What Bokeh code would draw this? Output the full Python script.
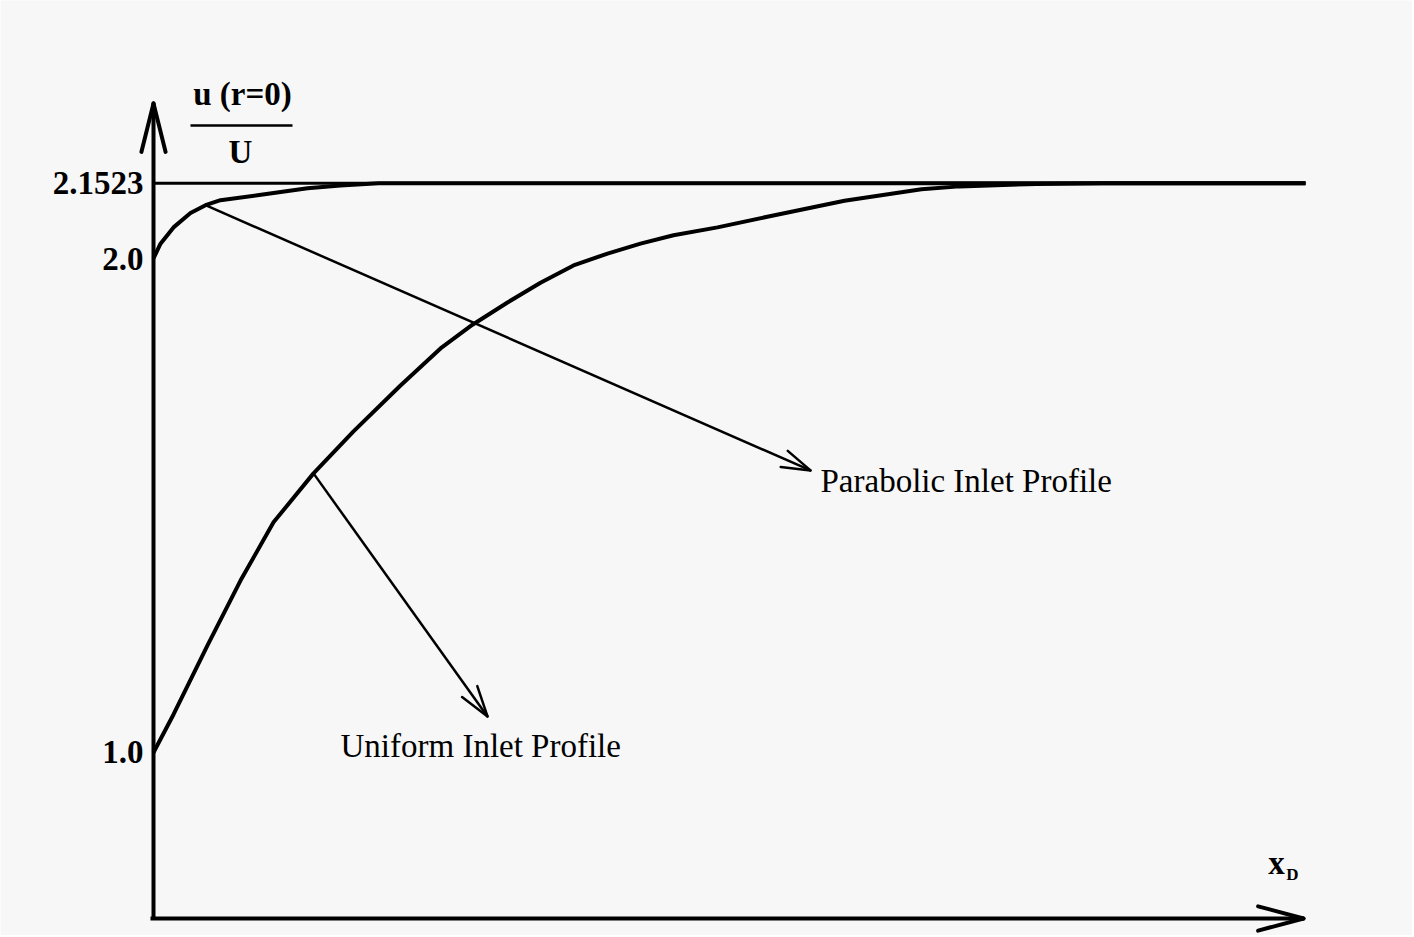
import math

from bokeh.plotting import figure
from bokeh.models import Arrow, Range1d
from bokeh.core.properties import value
from bokeh.embed import file_html
from bokeh.resources import INLINE

# centreline velocity u(r=0)/U along the duct, x_D in arbitrary units
parabolic_x = [0.00, 0.07, 0.20, 0.37, 0.52, 0.67, 1.04, 1.54, 1.87, 2.25]
parabolic_u = [2.000, 2.030, 2.063, 2.092, 2.108, 2.118, 2.128, 2.142, 2.148, 2.1523]

uniform_x = [0.00, 0.20, 0.54, 0.87, 1.20, 1.60, 2.00, 2.47, 2.87, 3.19, 3.54, 3.87,
             4.20, 4.54, 4.87, 5.20, 5.64, 6.15, 6.91, 7.68, 8.06, 8.83, 9.50]
uniform_u = [1.000, 1.077, 1.217, 1.348, 1.466, 1.565, 1.650, 1.743, 1.818, 1.866, 1.911, 1.951,
             1.986, 2.010, 2.030, 2.047, 2.063, 2.085, 2.117, 2.140, 2.146, 2.151, 2.1523]

fully_developed = 2.1523
x_end = 11.52

tick_values = [2.1523, 2.0, 1.0]
tick_labels = ["2.1523", "2.0", "1.0"]

labels = ["Parabolic Inlet Profile", "Uniform Inlet Profile"]

serif = value("Liberation Serif")
bg = "#f7f7f7"

W, H = 1412, 935
x0, x1 = -1.53, 12.59
y0, y1 = 0.62955, 2.52227

p = figure(width=W, height=H,
           x_range=Range1d(x0, x1), y_range=Range1d(y0, y1),
           x_axis_type=None, y_axis_type=None,
           output_backend="svg", toolbar_location=None, min_border=0)
p.grid.visible = False
p.outline_line_color = None
p.background_fill_color = bg
p.border_fill_color = bg

# pixels per data unit, used to draw narrow open arrow heads
sx = W / (x1 - x0)
sy = H / (y1 - y0)


def arrow(xs, ys, xe, ye, lw, head_len, half_angle):
    p.add_layout(Arrow(end=None, x_start=xs, y_start=ys, x_end=xe, y_end=ye,
                       line_width=lw, line_color="black"))
    ang = math.atan2((ys - ye) * sy, (xs - xe) * sx)
    a = math.radians(half_angle)
    hx, hy = [], []
    for s in (1, -1):
        hx.append([xe + head_len * math.cos(ang + s * a) / sx, xe])
        hy.append([ye + head_len * math.sin(ang + s * a) / sy, ye])
    p.multi_line(hx, hy, line_width=lw, color="black", line_cap="round")


axis_u = 0.664

# axes drawn as arrows
arrow(-0.03, axis_u, 11.50, axis_u, 4, 47, 15)
arrow(0, axis_u, 0, 2.314, 4, 50, 14)

# fully developed value
p.line([0, x_end], [fully_developed, fully_developed], line_width=3, color="black")

# curves
p.line(parabolic_x + [x_end], parabolic_u + [fully_developed], line_width=4,
       color="black", line_join="round")
p.line(uniform_x + [x_end], uniform_u + [fully_developed], line_width=4,
       color="black", line_join="round")

# pointers to the labels
arrow(parabolic_x[4], parabolic_u[4], 6.57, 1.571, 2.5, 30, 17)
arrow(uniform_x[5], uniform_u[5], 3.34, 1.073, 2.5, 32, 17)

p.text([6.67, 1.87], [1.549, 1.014], text=labels, text_font=serif,
       text_font_size="33px", text_baseline="middle", text_align="left", color="black")

# tick labels
p.text([-0.10] * 3, tick_values, text=tick_labels, text_font=serif,
       text_font_size="33px", text_font_style="bold",
       text_baseline="middle", text_align="right", color="black")

# y title as a fraction
p.text([0.89], [2.334], text=["u (r=0)"], text_font=serif, text_font_size="33px",
       text_font_style="bold", text_baseline="middle", text_align="center", color="black")
p.line([0.37, 1.39], [2.269, 2.269], line_width=2.5, color="black")
p.text([0.87], [2.2146], text=["U"], text_font=serif, text_font_size="33px",
       text_font_style="bold", text_baseline="middle", text_align="center", color="black")

# x title with subscript
p.text([11.23], [0.777], text=["x"], text_font=serif, text_font_size="33px",
       text_font_style="bold", text_baseline="middle", text_align="center", color="black")
p.text([11.39], [0.753], text=["D"], text_font=serif, text_font_size="17px",
       text_font_style="bold", text_baseline="middle", text_align="center", color="black")

open("out.html", "w").write(file_html(p, INLINE))
